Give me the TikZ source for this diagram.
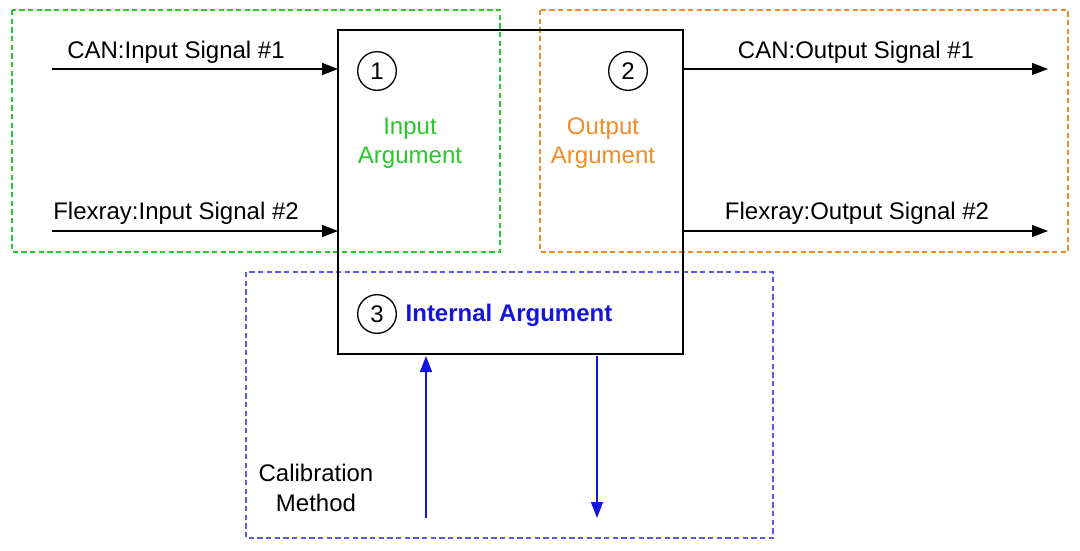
\documentclass[tikz,border=0pt]{standalone}
\usepackage{fontspec}
\setmainfont{Liberation Sans}
\usetikzlibrary{arrows.meta}
\begin{document}
\begin{tikzpicture}[x=0.75pt,y=-0.75pt,
  dbox/.style={dashed,line width=1pt,dash pattern=on 4pt off 2.5pt},
  lbl/.style={font=\fontsize{18}{22}\selectfont},
  num/.style={circle,draw,line width=1pt,minimum size=29pt,inner sep=0pt,font=\fontsize{18}{20}\selectfont},
  arr/.style={line width=1pt,-{Triangle[length=12pt,width=9pt]}}]
\useasboundingbox (0,0) rectangle (1080,550);
\definecolor{gr}{RGB}{40,200,40}
\definecolor{og}{RGB}{240,140,40}
\definecolor{bl}{RGB}{20,20,220}
\draw[dbox,gr] (12,10) rectangle (500,252);
\draw[dbox,og] (540,10) rectangle (1068,252);
\draw[dbox,bl!70!white] (246,272) rectangle (773,538);
\node[draw,line width=1pt,minimum width=258.75pt,minimum height=243pt,inner sep=0pt] (main) at (510.5,192) {};
\node[num] (n1) at (377,71) {1};
\node[num] (n2) at (628,71) {2};
\node[num] (n3) at (377,314) {3};
\node[lbl,text=gr,align=center] (ia) at (410,143) {Input\\Argument};
\node[lbl,text=og,align=center] (oa) at (603,143) {Output\\Argument};
\node[lbl,text=bl,font=\fontsize{18}{20}\selectfont\bfseries] (int) at (509,315) {Internal Argument};
\node[lbl,align=center] (cal) at (316,488) {Calibration\\Method};
\coordinate (a1) at (52,69); \coordinate (b1) at (338,69);
\coordinate (a2) at (52,231); \coordinate (b2) at (338,231);
\coordinate (c1) at (683,69); \coordinate (d1) at (1048,69);
\coordinate (c2) at (683,231); \coordinate (d2) at (1048,231);
\coordinate (u1) at (426,518); \coordinate (u2) at (426,356);
\coordinate (v1) at (597,356); \coordinate (v2) at (597,518);
\draw[arr] (a1) -- (b1);
\draw[arr] (a2) -- (b2);
\draw[arr] (c1) -- (d1);
\draw[arr] (c2) -- (d2);
\draw[arr,bl] (u1) -- (u2);
\draw[arr,bl] (v1) -- (v2);
\node[lbl] (t1) at (176,52) {CAN:Input Signal \#1};
\node[lbl] (t2) at (176,213) {Flexray:Input Signal \#2};
\node[lbl] (t3) at (856,52) {CAN:Output Signal \#1};
\node[lbl] (t4) at (857,213) {Flexray:Output Signal \#2};
\end{tikzpicture}
\end{document}
